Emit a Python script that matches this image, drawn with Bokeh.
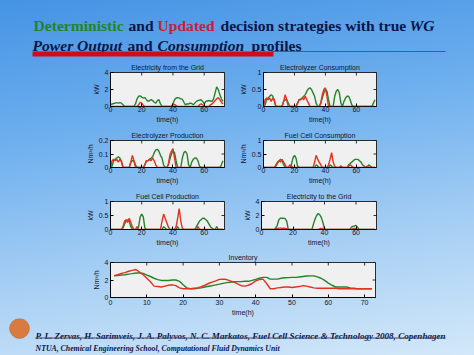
from bokeh.plotting import figure
from bokeh.layouts import column, row
from bokeh.models import Range1d, FixedTicker, Label, BoxAnnotation
from bokeh.embed import file_html
from bokeh.resources import INLINE

# ---------------- data ----------------
hours = list(range(0, 73))
inv_hours = list(range(1, 73))

grid_in_det = [0.2, 0.3, 0.35, 0.4, 0.45, 0.4, 0.45, 0.4, 0.2, 0,
               0, 0, 0, 0, 0, 0, 0.3, 0.9, 1.2, 1.25,
               1.1, 1.0, 1.05, 0.8, 0.6, 0.7, 0.8, 0.7, 0.5, 0.4,
               0.7, 0.8, 0.3, 0, 0, 0, 0, 0, 0, 0,
               0.3, 0.8, 1.0, 1.05, 1.0, 0.9, 0.85, 0.5, 0.2, 0.3,
               0.3, 0.4, 0.35, 0.2, 0.4, 0.6, 0.7, 0.75, 0.8, 0.6,
               0.3, 0.6, 0.65, 0.7, 0.65, 0.6, 0.9, 1.6, 2.3, 2.0,
               1.4, 0.9, 0.6]
grid_in_upd = [0, 0, 0, 0, 0, 0, 0, 0, 0, 0,
               0, 0, 0, 0, 0, 0, 0, 0, 0.2, 0.5,
               0.4, 0.15, 0, 0, 0, 0, 0, 0, 0, 0,
               0, 0, 0, 0, 0, 0, 0, 0, 0, 0,
               0.15, 0.25, 0.1, 0, 0, 0, 0, 0, 0, 0,
               0, 0, 0, 0, 0, 0, 0, 0.2, 0.3, 0.2,
               0, 0, 0, 0, 0.2, 0.3, 0.5, 0.7, 0.9, 1.05,
               0.8, 0.5, 0.3]

elz_cons_det = [0, 0.05, 0.2, 0.25, 0.3, 0.35, 0.3, 0.15, 0, 0,
                0, 0, 0, 0.15, 0.2, 0.2, 0.1, 0, 0, 0,
                0, 0, 0.1, 0.2, 0.22, 0.25, 0.3, 0.35, 0.45, 0.52,
                0.55, 0.5, 0.4, 0.3, 0.1, 0, 0, 0.1, 0.25, 0.4,
                0.5, 0.45, 0.2, 0, 0, 0, 0.3, 0.45, 0.5, 0.4,
                0.1, 0, 0.15, 0.25, 0.3, 0.3, 0.2, 0.05, 0, 0,
                0, 0, 0, 0, 0, 0, 0, 0, 0, 0,
                0, 0.1, 0.2]
elz_cons_upd = [0, 0.2, 0.25, 0.2, 0.25, 0.15, 0.25, 0.2, 0, 0,
                0, 0, 0, 0.15, 0.35, 0.2, 0, 0, 0, 0,
                0, 0, 0.1, 0.2, 0.2, 0.25, 0.2, 0.3, 0.2, 0.1,
                0, 0, 0, 0, 0, 0, 0, 0.1, 0.35, 0.5,
                0.55, 0.3, 0, 0, 0, 0, 0, 0, 0, 0,
                0, 0, 0, 0, 0, 0, 0, 0, 0, 0,
                0, 0, 0, 0, 0, 0, 0, 0, 0, 0,
                0, 0, 0]

elz_prod_det = [0, 0.01, 0.05, 0.06, 0.07, 0.08, 0.07, 0.04, 0, 0,
                0, 0, 0, 0.04, 0.05, 0.05, 0.02, 0, 0, 0,
                0, 0, 0.02, 0.05, 0.05, 0.06, 0.07, 0.08, 0.11, 0.13,
                0.135, 0.12, 0.09, 0.07, 0.02, 0, 0, 0.02, 0.06, 0.1,
                0.12, 0.11, 0.05, 0, 0, 0, 0.07, 0.11, 0.12, 0.1,
                0.02, 0, 0.04, 0.06, 0.07, 0.07, 0.05, 0.01, 0, 0,
                0, 0, 0, 0, 0, 0, 0, 0, 0, 0,
                0, 0.02, 0.05]
elz_prod_upd = [0, 0.05, 0.06, 0.05, 0.06, 0.04, 0.06, 0.05, 0, 0,
                0, 0, 0, 0.04, 0.09, 0.05, 0, 0, 0, 0,
                0, 0, 0.02, 0.05, 0.05, 0.06, 0.05, 0.07, 0.05, 0.02,
                0, 0, 0, 0, 0, 0, 0, 0.02, 0.09, 0.12,
                0.14, 0.07, 0, 0, 0, 0, 0, 0, 0, 0,
                0, 0, 0, 0, 0, 0, 0, 0, 0, 0,
                0, 0, 0, 0, 0, 0, 0, 0, 0, 0,
                0, 0, 0]

fc_cons_det = [0, 0, 0, 0, 0, 0, 0, 0, 0.05, 0.15,
               0.25, 0.3, 0.25, 0.1, 0, 0, 0, 0, 0.1, 0.35,
               0.45, 0.35, 0.05, 0, 0, 0, 0, 0, 0, 0,
               0, 0, 0, 0, 0.1, 0.05, 0, 0, 0, 0,
               0, 0, 0, 0.1, 0.05, 0, 0, 0, 0, 0,
               0.05, 0, 0, 0, 0, 0.1, 0.15, 0.2, 0.25, 0.3,
               0.3, 0.3, 0.25, 0.2, 0.1, 0.05, 0, 0, 0.1, 0.05,
               0, 0, 0]
fc_cons_upd = [0, 0, 0, 0, 0, 0, 0, 0, 0.1, 0.2,
               0.25, 0.2, 0.3, 0.2, 0.1, 0, 0, 0.1, 0.05, 0,
               0, 0, 0, 0, 0, 0, 0, 0, 0, 0,
               0, 0, 0, 0.2, 0.45, 0.3, 0.2, 0.1, 0, 0,
               0, 0, 0.1, 0.3, 0.55, 0.2, 0.05, 0, 0, 0,
               0.05, 0, 0, 0, 0, 0.05, 0.1, 0.05, 0, 0,
               0, 0, 0, 0, 0, 0, 0, 0.05, 0, 0,
               0, 0, 0]

fc_prod_det = [0, 0, 0, 0, 0, 0, 0, 0, 0.05, 0.2,
               0.3, 0.35, 0.3, 0.1, 0, 0, 0, 0, 0.1, 0.45,
               0.55, 0.45, 0.05, 0, 0, 0, 0, 0, 0, 0,
               0, 0, 0, 0, 0.1, 0.05, 0, 0, 0, 0,
               0, 0, 0, 0.1, 0, 0, 0, 0, 0, 0,
               0, 0, 0, 0, 0, 0.1, 0.2, 0.3, 0.35, 0.4,
               0.4, 0.35, 0.3, 0.2, 0.1, 0.05, 0, 0, 0.1, 0,
               0, 0, 0]
fc_prod_upd = [0, 0, 0, 0, 0, 0, 0, 0, 0.1, 0.3,
               0.35, 0.25, 0.4, 0.25, 0.1, 0, 0, 0.1, 0, 0,
               0, 0, 0, 0, 0, 0, 0, 0, 0, 0,
               0, 0, 0, 0.3, 0.55, 0.4, 0.25, 0.1, 0, 0,
               0, 0, 0.1, 0.4, 0.75, 0.3, 0.05, 0, 0, 0,
               0, 0, 0, 0, 0, 0, 0.1, 0, 0, 0,
               0, 0, 0, 0, 0, 0, 0, 0, 0, 0,
               0, 0, 0]

grid_out_det = [0, 0, 0, 0, 0, 0, 0, 0, 0, 0.2,
                0.6, 1.4, 1.6, 1.6, 1.6, 1.55, 1.2, 0, 0, 0,
                0, 0, 0, 0, 0, 0, 0, 0, 0, 0,
                0, 0, 0, 0.8, 1.5, 2.0, 2.3, 2.1, 1.7, 1.0,
                0.1, 0, 0, 0, 0, 0, 0, 0, 0, 0,
                0, 0, 0, 0, 0, 0, 0, 0.3, 0.45, 0.5,
                0.6, 0.3, 0, 0, 0, 0, 0, 0, 0, 0,
                0, 0, 0]
grid_out_upd = [0, 0, 0, 0, 0, 0, 0, 0, 0, 0.1,
                0.15, 0.2, 0.2, 0.15, 0.2, 0.15, 0.1, 0, 0, 0,
                0, 0, 0, 0, 0, 0, 0, 0, 0, 0,
                0, 0, 0, 0, 0, 0, 0, 0.1, 0.15, 0.1,
                0, 0, 0, 0, 0, 0, 0, 0, 0, 0,
                0, 0, 0, 0, 0, 0, 0, 0, 0.1, 0.15,
                0.1, 0, 0, 0, 0, 0, 0, 0, 0, 0,
                0, 0, 0]

inv_det = [2.47, 2.52, 2.57, 2.6, 2.67, 2.73, 2.8, 2.8, 2.75, 2.55,
           2.4, 2.2, 2.05, 1.95, 1.95, 1.95, 2.0, 2.0, 1.85, 1.45,
           1.1, 1.0, 1.0, 1.05, 1.1, 1.2, 1.28, 1.35, 1.45, 1.53,
           1.62, 1.7, 1.75, 1.8, 1.82, 1.82, 1.85, 1.85, 1.95, 2.07,
           2.2, 2.3, 2.3, 2.1, 2.1, 2.1, 2.2, 2.25, 2.27, 2.3,
           2.3, 2.35, 2.4, 2.45, 2.47, 2.47, 2.35, 2.2, 1.95, 1.65,
           1.4, 1.2, 1.2, 1.2, 1.2, 1.1, 1.05, 1.0, 1.0, 1.0,
           1.0, 1.0]
inv_upd = [2.5, 2.6, 2.75, 2.85, 3.0, 3.1, 3.2, 2.9, 2.6, 2.2,
           1.8, 1.3, 1.25, 1.2, 1.3, 1.4, 1.45, 1.35, 1.1, 1.0,
           1.0, 1.0, 1.05, 1.1, 1.25, 1.4, 1.6, 1.75, 1.9, 2.07,
           2.1, 2.05, 1.9, 1.75, 1.55, 1.35, 1.3, 1.4, 1.6, 1.9,
           2.05, 2.1, 1.6, 1.0, 1.0, 1.1, 1.15, 1.2, 1.2, 1.15,
           1.2, 1.25, 1.35, 1.3, 1.2, 1.1, 1.05, 1.05, 1.05, 1.05,
           1.05, 1.05, 1.0, 1.0, 1.0, 1.0, 1.0, 1.0, 1.0, 1.0,
           1.0, 1.0]

x_ticks_small = [0, 20, 40, 60]
x_ticks_inv = [0, 10, 20, 30, 40, 50, 60, 70]
x_max = 73

# ---------------- style ----------------
GREEN = "#23842a"
RED = "#e2321f"
NAVY = "#0b1548"
TXT = "#15152e"
FONT = "Liberation Sans"
SERIF = "Liberation Serif"


def fmt(v):
    return "%g" % v


def style_axis(ax):
    ax.major_tick_in = 3
    ax.major_tick_out = 0
    ax.minor_tick_line_color = None
    ax.major_tick_line_color = "black"
    ax.axis_line_color = "black"
    ax.axis_line_width = 0.8
    ax.major_label_text_font = FONT
    ax.major_label_text_font_size = "7px"
    ax.major_label_text_color = TXT
    ax.major_label_text_line_height = 1.0
    ax.axis_label_text_font = FONT
    ax.axis_label_text_font_size = "7px"
    ax.axis_label_text_font_style = "normal"
    ax.axis_label_text_color = TXT
    ax.axis_label_text_line_height = 1.0


def panel(title, ylabel, ymax, yticks, x, det, upd, xticks,
          width, left, fw, height, top, fh, lab_so=0, axl_so=1):
    p = figure(width=width, height=height,
               x_range=Range1d(0, x_max), y_range=Range1d(0, ymax),
               output_backend="svg", toolbar_location=None,
               min_border_left=left, min_border_right=width - left - fw,
               min_border_top=top, min_border_bottom=height - top - fh)
    p.background_fill_color = "#f0f0f0"
    p.border_fill_alpha = 0
    p.outline_line_color = "black"
    p.outline_line_width = 0.8
    p.grid.visible = False
    p.title.text = title
    p.title.align = "center"
    p.title.text_font = FONT
    p.title.text_font_size = "7px"
    p.title.text_font_style = "normal"
    p.title.text_color = TXT
    p.title.text_line_height = 1.0
    p.title.standoff = 3
    p.xaxis.ticker = FixedTicker(ticks=xticks)
    p.yaxis.ticker = FixedTicker(ticks=yticks)
    p.yaxis.major_label_overrides = {t: fmt(t) for t in yticks}
    p.xaxis.axis_label = "time(h)"
    p.yaxis.axis_label = ylabel
    for ax in (p.xaxis[0], p.yaxis[0]):
        style_axis(ax)
    p.xaxis.major_label_standoff = lab_so
    p.xaxis.axis_label_standoff = axl_so
    p.yaxis.major_label_standoff = 2
    p.yaxis.axis_label_standoff = 2
    # MATLAB-style box: inward ticks on the top and right edges
    # (dash markers centred on the edge; the frame clips the outer half)
    p.scatter(x=xticks, y=[ymax] * len(xticks), marker="dash", angle=1.5708,
              size=6, line_color="black", line_width=0.8)
    p.scatter(x=[x_max] * len(yticks), y=yticks, marker="dash",
              size=6, line_color="black", line_width=0.8)
    p.line(x, det, color=GREEN, line_width=1.4)
    p.line(x, upd, color=RED, line_width=1.4)
    return p


def deco(height, y0):
    p = figure(width=474, height=height, x_range=Range1d(0, 474),
               y_range=Range1d(y0 + height, y0),
               output_backend="svg", toolbar_location=None,
               x_axis_type=None, y_axis_type=None, min_border=0,
               frame_align=False)
    p.grid.visible = False
    p.outline_line_color = None
    p.background_fill_alpha = 0
    p.border_fill_alpha = 0
    return p


def put(p, x, y, t, color, style, size, font=SERIF):
    p.add_layout(Label(x=x, y=y, text=t, text_color=color, text_font=font,
                       text_font_size=size, text_font_style=style,
                       text_baseline="alphabetic", text_align="left"))


# ---------------- header ----------------
head = deco(58, 0)
line1 = [("Deterministic", GREEN, "bold", 33),
         ("and", NAVY, "bold", 128),
         ("Updated", "#c8203a", "bold", 157),
         ("decision strategies with true", NAVY, "bold", 220),
         ("WG", NAVY, "bold italic", 409)]
line2 = [("Power Output", NAVY, "bold italic", 32),
         ("and", NAVY, "bold", 127),
         ("Consumption", NAVY, "bold italic", 157),
         ("profiles", NAVY, "bold", 251)]
for words, base in ((line1, 25), (line2, 45)):
    for t, c, s, xx in words:
        put(head, xx, base, t, c, s, "15.6px")
head.add_layout(BoxAnnotation(left=272, right=445, top=50.5, bottom=51.5,
                              fill_color="#5b4f8c", fill_alpha=1, line_color=None))
head.add_layout(BoxAnnotation(left=32, right=273, top=51, bottom=56,
                              fill_color="#d30b16", fill_alpha=1, line_color=None))

# ---------------- panels ----------------
p1 = panel("Electricity from the Grid", "kW", 4, [0, 2, 4], hours, grid_in_det, grid_in_upd,
           x_ticks_small, 236, 110, 114, 68, 14, 34)
p2 = panel("Electrolyzer Consumption", "kW", 1, [0, 0.5, 1], hours, elz_cons_det, elz_cons_upd,
           x_ticks_small, 238, 25, 115, 68, 14, 34)
p3 = panel("Electrolyzer Production", "Nm³/h", 0.2, [0, 0.1, 0.2], hours, elz_prod_det, elz_prod_upd,
           x_ticks_small, 236, 110, 114, 61, 14, 27)
p4 = panel("Fuel Cell Consumption", "Nm³/h", 1, [0, 0.5, 1], hours, fc_cons_det, fc_cons_upd,
           x_ticks_small, 238, 25, 115, 61, 14, 27)
p5 = panel("Fuel Cell Production", "kW", 1, [0, 0.5, 1], hours, fc_prod_det, fc_prod_upd,
           x_ticks_small, 236, 110, 114, 62, 14, 28)
p6 = panel("Electricity to the Grid", "kW", 4, [0, 2, 4], hours, grid_out_det, grid_out_upd,
           x_ticks_small, 238, 25, 115, 62, 14, 28)
p7 = panel("Inventory", "Nm³/h", 4, [0, 2, 4], inv_hours, inv_det, inv_upd,
           x_ticks_inv, 474, 110, 265, 69, 13, 36, 2, 1)

# ---------------- footer ----------------
foot = deco(37, 318)
foot.add_layout(BoxAnnotation(left=9, right=29, top=318, bottom=338, border_radius=10,
                              fill_color="#d97b40", fill_alpha=1,
                              line_color="#8e4a1e", line_width=1))
put(foot, 35, 335, "P. L. Zervas, H. Sarimveis, J. A. Palyvos,  N. C. Markatos, Fuel Cell Science & Technology 2008, Copenhagen",
    NAVY, "bold italic", "9.1px")
foot.add_layout(BoxAnnotation(left=35, right=445, top=337, bottom=338,
                              fill_color="#4a4a6a", fill_alpha=1, line_color=None))
put(foot, 35, 348, "NTUA, Chemical Engineering School, Computational Fluid Dynamics Unit",
    NAVY, "bold italic", "7.8px")

layout = column(head, row(p1, p2, spacing=0), row(p3, p4, spacing=0), row(p5, p6, spacing=0),
                p7, foot, spacing=0,
                styles={"background": "linear-gradient(172deg, #4593e4 0%, #6fb0ee 35%, #a9d0f4 70%, #d3e8f9 100%)"})

open("out.html", "w").write(file_html(layout, INLINE))
